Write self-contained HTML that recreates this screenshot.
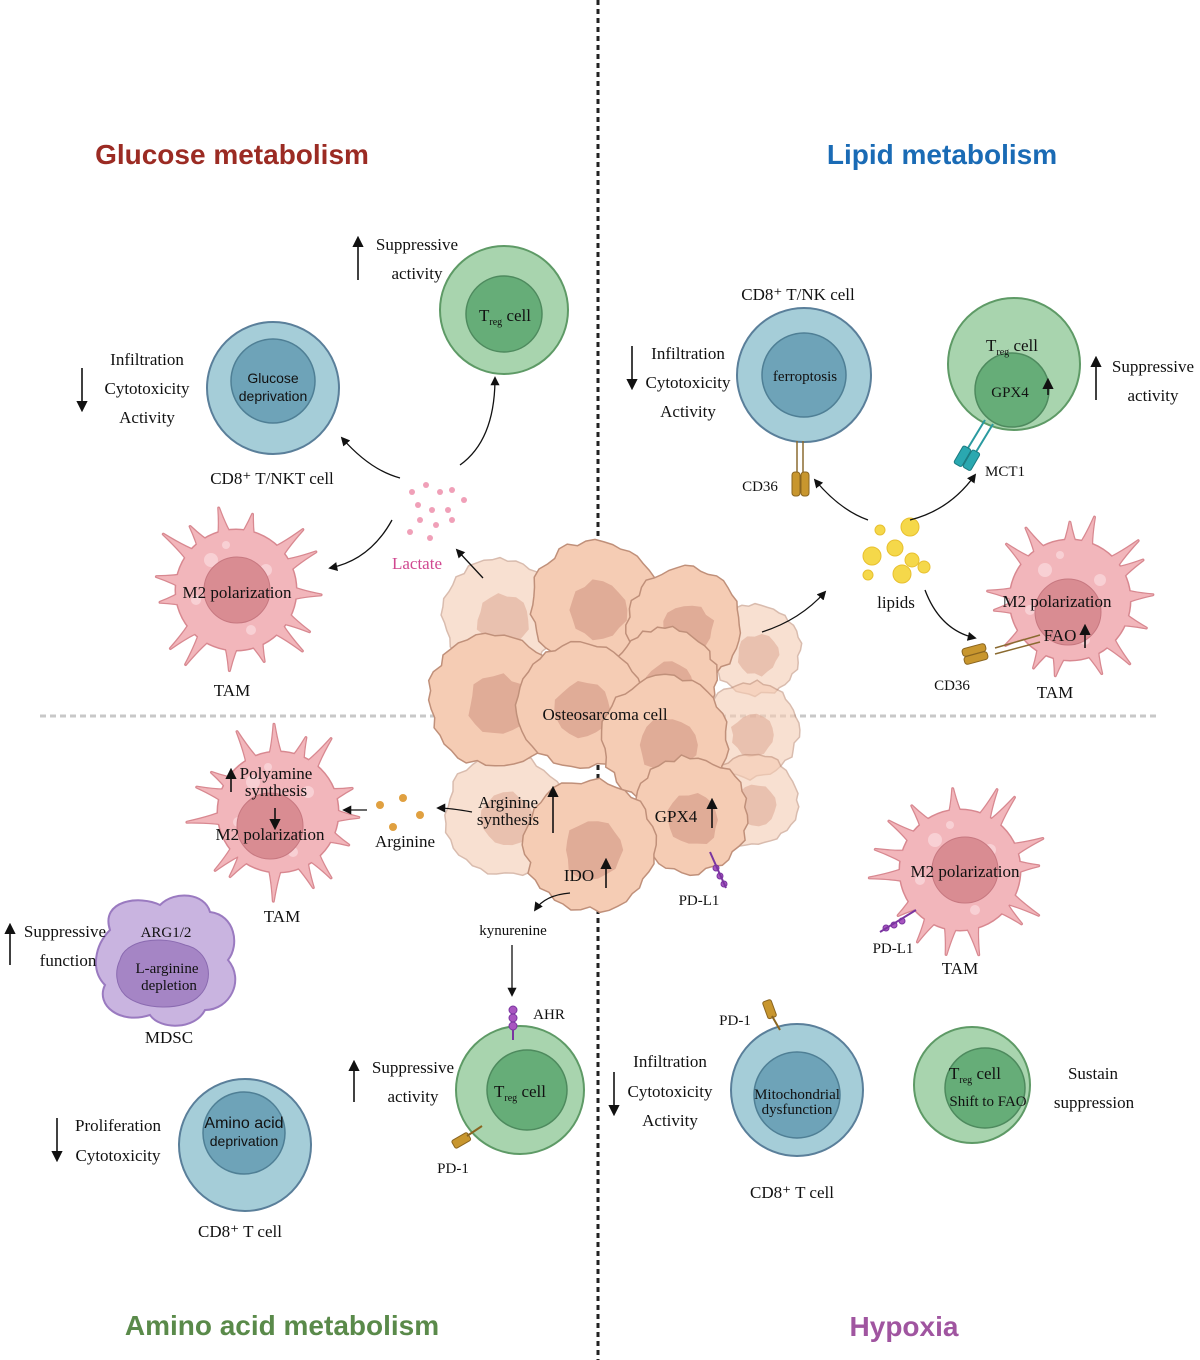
<!DOCTYPE html>
<html><head><meta charset="utf-8"><style>
body{margin:0;background:#fff}
svg{display:block}
text{font-family:"Liberation Serif",serif;font-size:17px;fill:#111}
.t{font-family:"Liberation Sans",sans-serif;font-weight:bold;font-size:28px}
.sm{font-size:15px}
</style></head><body>
<svg id="s" width="1200" height="1360" viewBox="0 0 1200 1360" xmlns="http://www.w3.org/2000/svg">
<defs>
<marker id="a" viewBox="0 0 10 10" refX="8" refY="5" markerWidth="7" markerHeight="7" orient="auto"><path d="M0 0L10 5L0 10z" fill="#111"/></marker>
</defs>
<line x1="40" y1="716" x2="1160" y2="716" stroke="#c8c8c8" stroke-width="3" stroke-dasharray="6 4"/>
<line x1="598" y1="0" x2="598" y2="1360" stroke="#222" stroke-width="3" stroke-dasharray="5 4"/>
<text class="t" x="232" y="164" text-anchor="middle" style="fill:#9b2b23">Glucose metabolism</text>
<text class="t" x="942" y="164" text-anchor="middle" style="fill:#1a6bb5">Lipid metabolism</text>
<text class="t" x="282" y="1335" text-anchor="middle" style="fill:#5a8a4a">Amino acid metabolism</text>
<text class="t" x="904" y="1336" text-anchor="middle" style="fill:#a055a0">Hypoxia</text>

<g fill="#a5cdd8" stroke="#5a7f9a" stroke-width="2">
<circle cx="273" cy="388" r="66"/><circle cx="804" cy="375" r="67"/><circle cx="245" cy="1145" r="66"/><circle cx="797" cy="1090" r="66"/>
</g>
<g fill="#6ea3b8" stroke="#4f7f95" stroke-width="1.5">
<circle cx="273" cy="381" r="42"/><circle cx="804" cy="375" r="42"/><circle cx="244" cy="1133" r="41"/><circle cx="797" cy="1095" r="43"/>
</g>
<g fill="#a8d4ae" stroke="#5e9a66" stroke-width="2">
<circle cx="504" cy="310" r="64"/><circle cx="1014" cy="364" r="66"/><circle cx="520" cy="1090" r="64"/><circle cx="972" cy="1085" r="58"/>
</g>
<g fill="#66ad78" stroke="#4e8a5e" stroke-width="1.5">
<circle cx="504" cy="314" r="38"/><circle cx="1012" cy="390" r="37"/><circle cx="527" cy="1090" r="40"/><circle cx="985" cy="1088" r="40"/>
</g>
<g id="fg"></g>

<path d="M110 930 C100 900 140 895 160 905 C175 890 205 893 210 912 C235 915 240 945 228 960 C245 980 230 1010 205 1010 C195 1030 160 1030 150 1015 C120 1025 95 1005 105 985 C90 970 95 945 110 930Z" fill="#c9b4e0" stroke="#9a7ac0" stroke-width="2"/>
<path d="M120 960 C125 940 160 935 185 945 C210 950 215 980 200 995 C185 1012 140 1010 125 995 C115 985 115 970 120 960Z" fill="#a585c5" stroke="#8a6ab0" stroke-width="1"/>

<g fill="#f0a0b8"><circle cx="412" cy="492" r="3"/><circle cx="426" cy="485" r="3"/><circle cx="440" cy="492" r="3"/><circle cx="452" cy="490" r="3"/><circle cx="464" cy="500" r="3"/><circle cx="418" cy="505" r="3"/><circle cx="432" cy="510" r="3"/><circle cx="448" cy="510" r="3"/><circle cx="420" cy="520" r="3"/><circle cx="436" cy="525" r="3"/><circle cx="452" cy="520" r="3"/><circle cx="430" cy="538" r="3"/><circle cx="410" cy="532" r="3"/></g>
<g fill="#f5d84a" stroke="#e8c030"><circle cx="872" cy="556" r="9"/><circle cx="895" cy="548" r="8"/><circle cx="910" cy="527" r="9"/><circle cx="912" cy="560" r="7"/><circle cx="902" cy="574" r="9"/><circle cx="924" cy="567" r="6"/><circle cx="880" cy="530" r="5"/><circle cx="868" cy="575" r="5"/></g>
<g fill="#e0a040"><circle cx="380" cy="805" r="4"/><circle cx="403" cy="798" r="4"/><circle cx="420" cy="815" r="4"/><circle cx="393" cy="827" r="4"/></g>

<g stroke="#8a6a30" stroke-width="1.5">
<line x1="797" y1="441" x2="797" y2="475"/><line x1="803" y1="441" x2="803" y2="475"/>
<line x1="1040" y1="635" x2="995" y2="648"/><line x1="1040" y1="642" x2="995" y2="654"/>
</g>
<g fill="#c8962e" stroke="#8a6520"><rect x="792" y="472" width="8" height="24" rx="3"/><rect x="801" y="472" width="8" height="24" rx="3"/>
<rect x="962" y="646" width="24" height="8" rx="3" transform="rotate(-15 974 650)"/><rect x="964" y="654" width="24" height="8" rx="3" transform="rotate(-15 976 658)"/>
<rect x="765" y="1000" width="9" height="18" rx="2" transform="rotate(-20 770 1009)"/>
<rect x="452" y="1136" width="18" height="9" rx="2" transform="rotate(-30 461 1140)"/></g>
<g stroke="#8a6520" stroke-width="2"><line x1="772" y1="1016" x2="780" y2="1030"/><line x1="467" y1="1136" x2="482" y2="1126"/></g>
<g stroke="#2a9aa0" stroke-width="2"><line x1="985" y1="420" x2="968" y2="448"/><line x1="993" y1="424" x2="976" y2="452"/></g>
<g fill="#2aa8b0" stroke="#1a7a80"><rect x="958" y="446" width="9" height="20" rx="2" transform="rotate(30 962 456)"/><rect x="967" y="450" width="9" height="20" rx="2" transform="rotate(30 971 460)"/></g>
<g fill="#a855c0" stroke="#7a35a0"><circle cx="513" cy="1010" r="4"/><circle cx="513" cy="1018" r="4"/><circle cx="513" cy="1026" r="4"/><line x1="513" y1="1030" x2="513" y2="1040" stroke-width="2"/>
<circle cx="716" cy="868" r="3"/><circle cx="720" cy="876" r="3"/><circle cx="724" cy="884" r="3"/><circle cx="886" cy="928" r="3"/><circle cx="894" cy="925" r="3"/><circle cx="902" cy="921" r="3"/></g>
<g stroke="#7a35a0" stroke-width="2"><line x1="710" y1="852" x2="726" y2="888"/><line x1="880" y1="932" x2="916" y2="910"/></g>

<g fill="none" stroke="#111" stroke-width="1.3" marker-end="url(#a)">
<path d="M400 478 Q370 470 342 438"/>
<path d="M460 465 Q495 440 495 378"/>
<path d="M392 520 Q370 560 330 568"/>
<path d="M483 578 L457 550"/>
<path d="M762 632 Q800 620 825 592"/>
<path d="M868 520 Q840 510 815 480"/>
<path d="M910 520 Q950 510 975 475"/>
<path d="M925 590 Q940 630 975 638"/>
<path d="M472 812 Q450 808 438 808"/>
<path d="M367 810 L344 810"/>
<path d="M570 893 Q545 895 535 910"/>
<path d="M512 945 L512 995"/>
</g>
<g stroke="#111" stroke-width="1.6" fill="none" marker-end="url(#a)">
<line x1="358" y1="280" x2="358" y2="238"/><line x1="82" y1="368" x2="82" y2="410"/>
<line x1="632" y1="346" x2="632" y2="388"/><line x1="1096" y1="400" x2="1096" y2="358"/>
<line x1="1048" y1="395" x2="1048" y2="380"/><line x1="1085" y1="648" x2="1085" y2="626"/>
<line x1="553" y1="833" x2="553" y2="788"/><line x1="712" y1="828" x2="712" y2="800"/><line x1="606" y1="888" x2="606" y2="860"/>
<line x1="231" y1="792" x2="231" y2="770"/><line x1="275" y1="808" x2="275" y2="828"/>
<line x1="10" y1="965" x2="10" y2="925"/><line x1="57" y1="1118" x2="57" y2="1160"/>
<line x1="354" y1="1102" x2="354" y2="1062"/><line x1="614" y1="1072" x2="614" y2="1114"/>
</g>

<g text-anchor="middle">
<text x="417" y="250">Suppressive</text><text x="417" y="279">activity</text>
<text x="147" y="365">Infiltration</text><text x="147" y="394">Cytotoxicity</text><text x="147" y="423">Activity</text>
<text x="273" y="383" style="font-family:'Liberation Sans',sans-serif;font-size:14px">Glucose</text>
<text x="273" y="401" style="font-family:'Liberation Sans',sans-serif;font-size:14px">deprivation</text>
<text x="272" y="484">CD8⁺ T/NKT cell</text>
<text x="505" y="321">T<tspan font-size="10" dy="4">reg</tspan><tspan dy="-4"> cell</tspan></text>
<text x="237" y="598">M2 polarization</text><text x="232" y="696">TAM</text>
<text x="417" y="569" style="fill:#d04890">Lactate</text>
<text x="798" y="300">CD8⁺ T/NK cell</text>
<text x="688" y="359">Infiltration</text><text x="688" y="388">Cytotoxicity</text><text x="688" y="417">Activity</text>
<text x="805" y="381" class="sm">ferroptosis</text>
<text x="760" y="491" class="sm">CD36</text>
<text x="1012" y="351">T<tspan font-size="10" dy="4">reg</tspan><tspan dy="-4"> cell</tspan></text>
<text x="1010" y="397" class="sm">GPX4</text>
<text x="1153" y="372">Suppressive</text><text x="1153" y="401">activity</text>
<text x="1005" y="476" class="sm">MCT1</text>
<text x="896" y="608">lipids</text>
<text x="1057" y="607">M2 polarization</text><text x="1060" y="641">FAO</text>
<text x="952" y="690" class="sm">CD36</text><text x="1055" y="698">TAM</text>
<text x="605" y="720">Osteosarcoma cell</text>
<text x="508" y="808">Arginine</text><text x="508" y="825">synthesis</text>
<text x="676" y="822">GPX4</text><text x="579" y="881">IDO</text>
<text x="699" y="905" class="sm">PD-L1</text>
<text x="513" y="935" class="sm">kynurenine</text>
<text x="405" y="847">Arginine</text>
<text x="276" y="779">Polyamine</text><text x="276" y="796">synthesis</text>
<text x="270" y="840">M2 polarization</text><text x="282" y="922">TAM</text>
<text x="166" y="937" class="sm">ARG1/2</text>
<text x="167" y="973" class="sm">L-arginine</text><text x="169" y="990" class="sm">depletion</text>
<text x="169" y="1043">MDSC</text>
<text x="65" y="937">Suppressive</text><text x="68" y="966">function</text>
<text x="549" y="1019" class="sm">AHR</text>
<text x="413" y="1073">Suppressive</text><text x="413" y="1102">activity</text>
<text x="520" y="1097">T<tspan font-size="10" dy="4">reg</tspan><tspan dy="-4"> cell</tspan></text>
<text x="453" y="1173" class="sm">PD-1</text>
<text x="244" y="1128" style="font-family:'Liberation Sans',sans-serif;font-size:16px">Amino acid</text>
<text x="244" y="1146" style="font-family:'Liberation Sans',sans-serif;font-size:14px">deprivation</text>
<text x="118" y="1131">Proliferation</text><text x="118" y="1161">Cytotoxicity</text>
<text x="240" y="1237">CD8⁺ T cell</text>
<text x="965" y="877">M2 polarization</text><text x="893" y="953" class="sm">PD-L1</text><text x="960" y="974">TAM</text>
<text x="735" y="1025" class="sm">PD-1</text>
<text x="670" y="1067">Infiltration</text><text x="670" y="1097">Cytotoxicity</text><text x="670" y="1126">Activity</text>
<text x="797" y="1099" class="sm">Mitochondrial</text><text x="797" y="1114" class="sm">dysfunction</text>
<text x="792" y="1198">CD8⁺ T cell</text>
<text x="975" y="1079">T<tspan font-size="10" dy="4">reg</tspan><tspan dy="-4"> cell</tspan></text>
<text x="988" y="1106" class="sm">Shift to FAO</text>
<text x="1093" y="1079">Sustain</text><text x="1094" y="1108">suppression</text>
</g>
</svg>
<script>
var NS="http://www.w3.org/2000/svg",fg=document.getElementById('fg');
function el(p,t,a){var e=document.createElementNS(NS,t);for(var k in a)e.setAttribute(k,a[k]);p.appendChild(e);return e;}
function rnd(s){return function(){s=(s*9301+49297)%233280;return s/233280;}}
function blob(cx,cy,r,n,amp,seed){var R=rnd(seed),d="";for(var i=0;i<n;i++){var a=i/n*2*Math.PI,rr=r*(1+(R()-.5)*amp);d+=(i?"L":"M")+(cx+rr*Math.cos(a)).toFixed(1)+" "+(cy+rr*Math.sin(a)).toFixed(1);}return d+"Z";}
var cells=[[500,615,57,1],[755,650,45,1],[750,730,48,1],[752,800,46,1],[505,815,60,1],[595,605,64,0],[685,625,57,0],[495,700,66,0],[665,680,52,0],[580,705,62,0],[665,740,63,0],[690,815,58,0],[590,845,65,0]];
var g=el(fg,'g',{});
cells.forEach(function(c,i){var o=c[3]?0.6:1;
el(g,'path',{d:blob(c[0],c[1],c[2],44,.1,i*7+3),fill:'#f5ccb4',stroke:'#c0907a','stroke-width':1.5,opacity:o});
el(g,'path',{d:blob(c[0]+3,c[1]+5,c[2]*0.45,18,.18,i*11+5),fill:'#e0ac97',opacity:o});});
function tam(cx,cy,seed){var R=rnd(seed),n=15,shapes=[];
for(var i=0;i<n;i++){var a=i/n*2*Math.PI+(R()-.5)*.25,r2=76+R()*16,w=.17;
var d="M"+(cx+50*Math.cos(a-w)).toFixed(1)+" "+(cy+50*Math.sin(a-w)).toFixed(1)+
"Q"+(cx+62*Math.cos(a-.05)).toFixed(1)+" "+(cy+62*Math.sin(a-.05)).toFixed(1)+" "+(cx+r2*Math.cos(a)).toFixed(1)+" "+(cy+r2*Math.sin(a)).toFixed(1)+
"Q"+(cx+62*Math.cos(a+.05)).toFixed(1)+" "+(cy+62*Math.sin(a+.05)).toFixed(1)+" "+(cx+50*Math.cos(a+w)).toFixed(1)+" "+(cy+50*Math.sin(a+w)).toFixed(1)+"Z";
shapes.push(d);}
var gg=el(fg,'g',{});
shapes.forEach(function(d){el(gg,'path',{d:d,fill:'#d88890',stroke:'#d88890','stroke-width':3,'stroke-linejoin':'round'});});
el(gg,'circle',{cx:cx,cy:cy,r:60,fill:'#d88890',stroke:'#d88890','stroke-width':3});
shapes.forEach(function(d){el(gg,'path',{d:d,fill:'#f2b6bb',stroke:'#f2b6bb','stroke-width':0.5,'stroke-linejoin':'round'});});
el(gg,'circle',{cx:cx,cy:cy,r:60,fill:'#f2b6bb'});
[[-25,-30,7],[30,-20,6],[-40,10,5],[15,40,5],[-10,-45,4]].forEach(function(v){el(gg,'circle',{cx:cx+v[0],cy:cy+v[1],r:v[2],fill:'#f8d0d4'});});
}
[[236,590,1,237,590],[1070,600,2,1068,612],[278,812,3,270,826],[960,870,4,965,870]].forEach(function(t){tam(t[0],t[1],t[2]*13);el(fg,'circle',{cx:t[3],cy:t[4],r:33,fill:'#d98c92',stroke:'#c77880'});});
</script>
</body></html>
